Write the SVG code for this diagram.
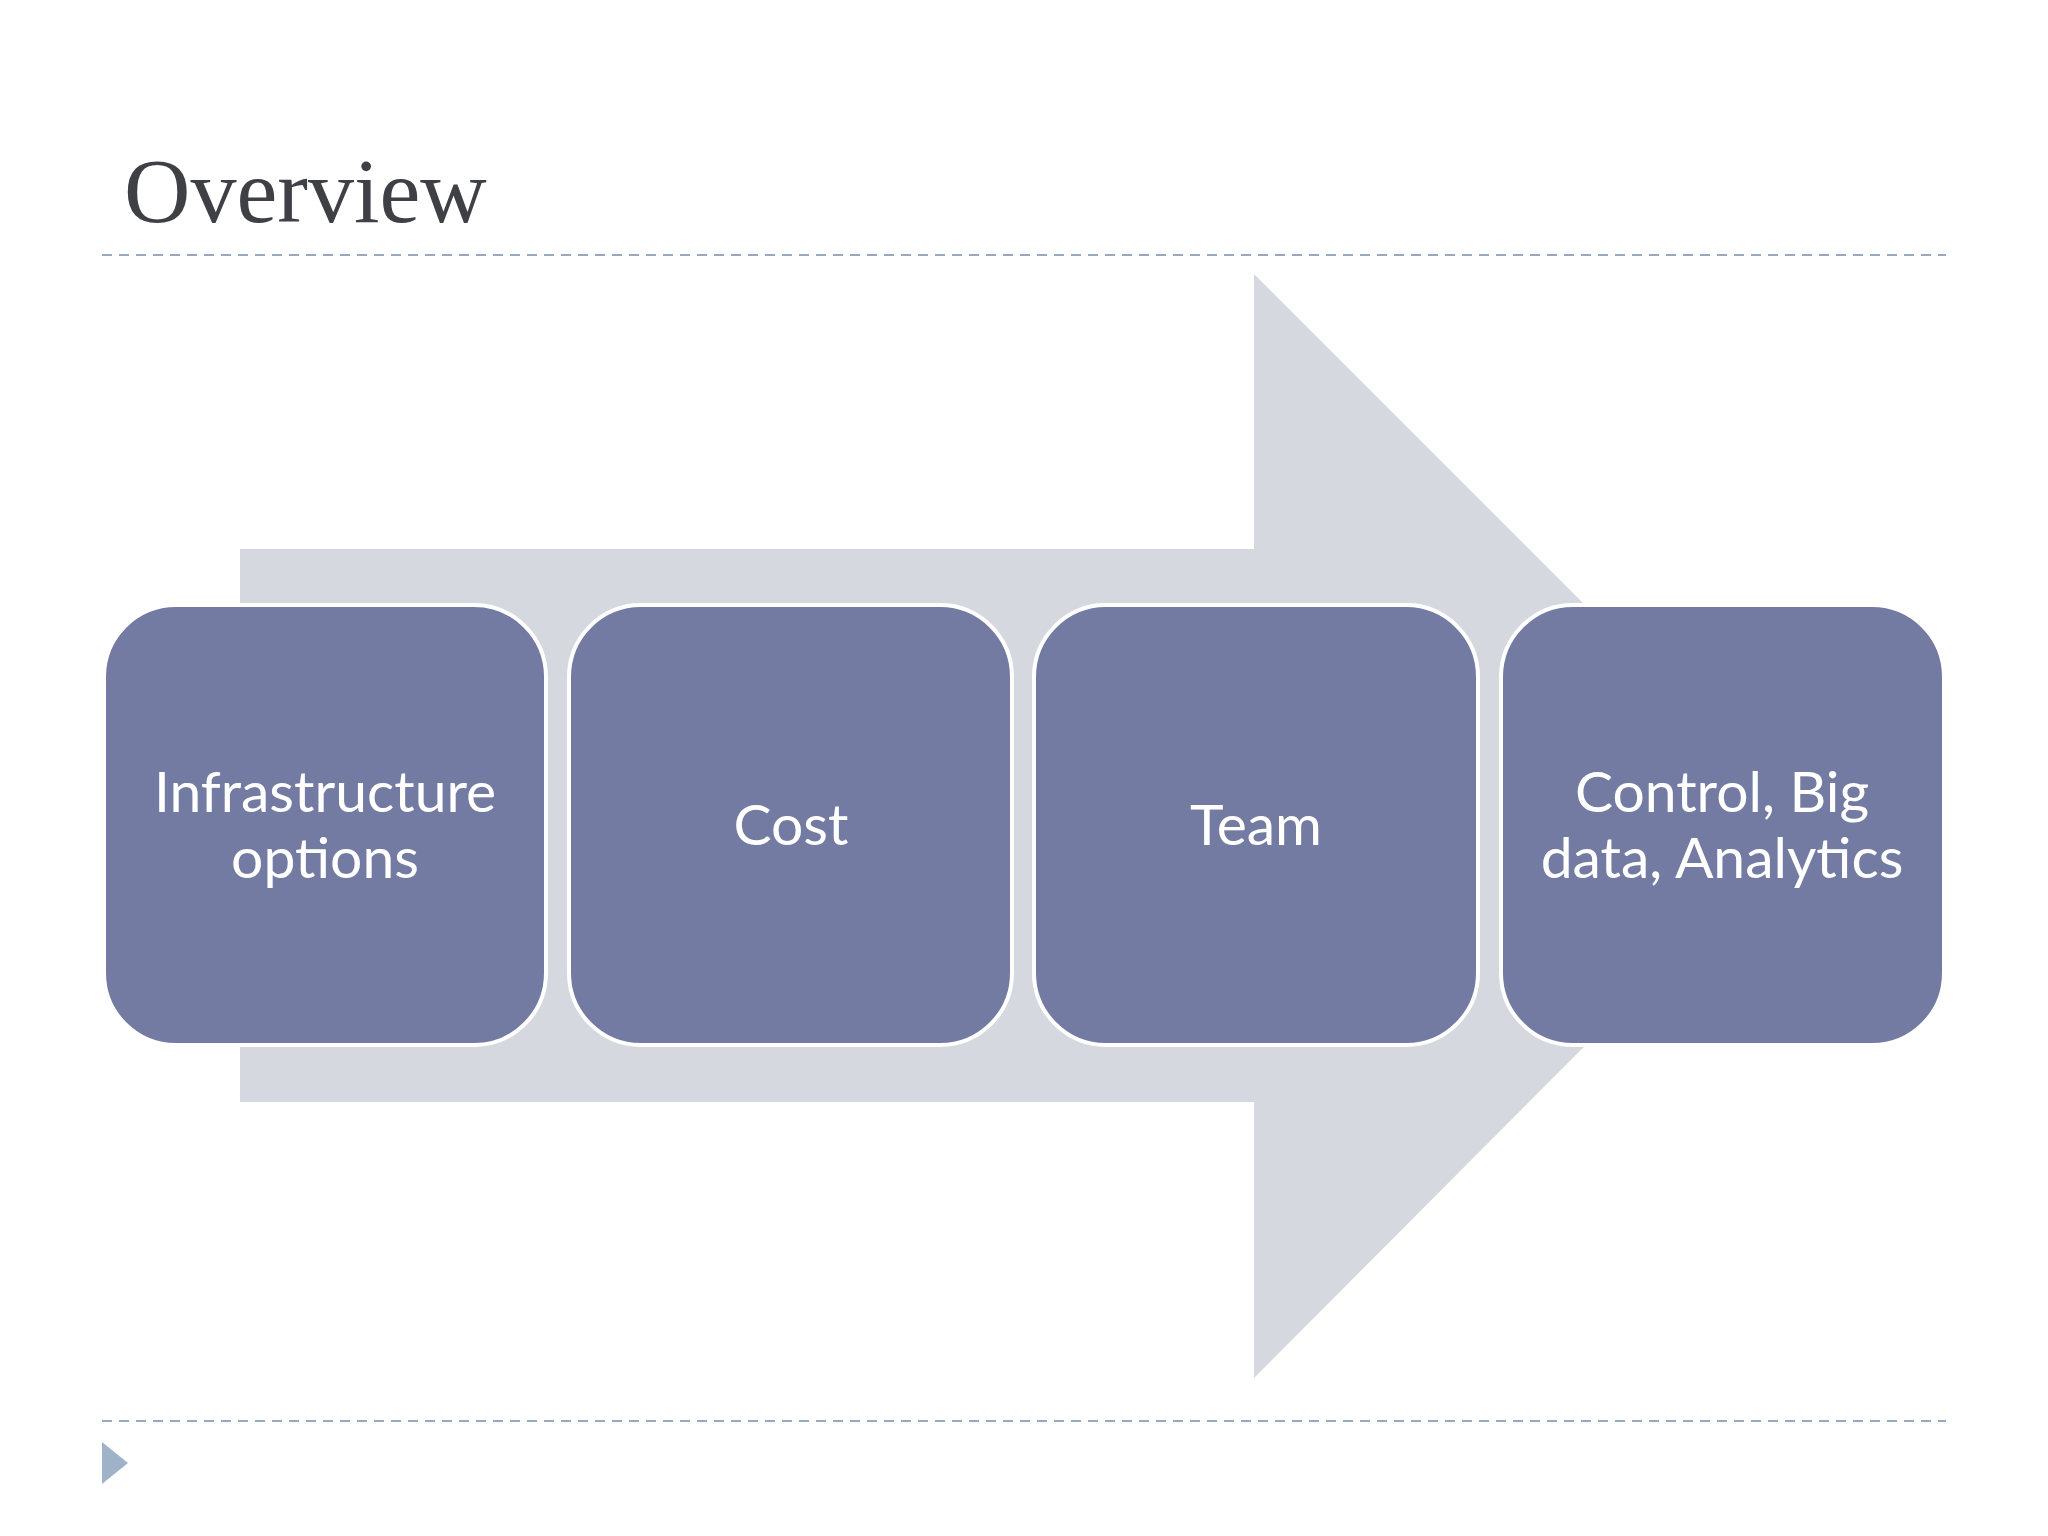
<svg xmlns="http://www.w3.org/2000/svg" width="2048" height="1536" viewBox="0 0 2048 1536">
<style>
.dash{stroke:#9aa8bf;stroke-width:2;stroke-dasharray:10 7;fill:none}
.box{fill:#737ba3;stroke:#ffffff;stroke-width:4}
.lbl{font-family:Lato,"Open Sans",sans-serif;font-size:57px;fill:#ffffff;text-anchor:middle}
</style>
<rect width="2048" height="1536" fill="#ffffff"/>
<text x="124" y="222" font-family="Liberation Serif,serif" font-size="92" fill="#3f3f46">Overview</text>
<line class="dash" x1="102" y1="255" x2="1946" y2="255"/>
<line class="dash" x1="102" y1="1421" x2="1946" y2="1421"/>
<g id="connectors">
<polygon points="240,549 1254,549 1254,274 1805,825 1254,1378 1254,1102 240,1102" fill="#d6d8e0"/>
</g>
<g id="n1"><rect class="box" x="104" y="605" width="442" height="440" rx="72"/><text class="lbl" x="325" y="812">Infrastructure</text><text class="lbl" x="325" y="878">options</text></g>
<g id="n2"><rect class="box" x="569" y="605" width="443" height="440" rx="72"/><text class="lbl" x="791" y="845">Cost</text></g>
<g id="n3"><rect class="box" x="1034" y="605" width="444" height="440" rx="72"/><text class="lbl" x="1256" y="845">Team</text></g>
<g id="n4"><rect class="box" x="1501" y="605" width="443" height="440" rx="72"/><text class="lbl" x="1722" y="812">Control, Big</text><text class="lbl" x="1722" y="878">data, Analytics</text></g>
<polygon points="102,1442 128,1463 102,1484" fill="#9fb3c8"/>
</svg>
